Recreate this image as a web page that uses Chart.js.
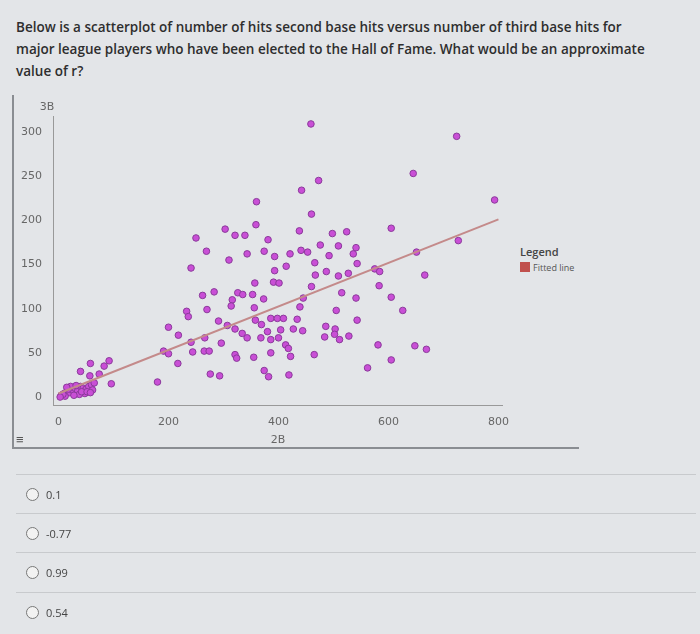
<!DOCTYPE html>
<html><head><meta charset="utf-8">
<script src="https://cdn.jsdelivr.net/npm/chart.js@4"></script>
<style>
body{margin:0;width:700px;height:634px;background:#e3e5e8;font-family:"Open Sans",sans-serif;color:#333;position:relative;overflow:hidden}
#q{position:absolute;left:16px;top:16px;width:684px;font-size:13.5px;font-weight:600;line-height:22px;color:#2e2e2e;white-space:nowrap}
#frame{position:absolute;left:12px;top:95px;width:565px;height:352px;border-left:2px solid #8a8d92;border-bottom:2px solid #8a8d92}
#cw{position:absolute;left:14px;top:95px;width:498px;height:352px}
#menu{position:absolute;left:16px;top:430px;font-size:13px;color:#555}
#leg{position:absolute;left:520px;top:244px;font-size:11px;color:#444;font-weight:600}
#leg div{font-size:9px;font-weight:400;color:#555;margin-top:2px}
#leg i{display:inline-block;width:10px;height:10px;background:#c0504d;margin-right:3px;vertical-align:-1px}
.opt{position:absolute;left:16px;width:680px;height:38px;border-top:1px solid #c8cacd;font-size:11px;color:#444}
.opt span.c{position:absolute;left:10px;top:13px;width:11px;height:11px;border:1px solid #777;border-radius:50%;background:#f2f2f2}
.opt span.t{position:absolute;left:30px;top:12px}
</style></head><body>
<div id="q">Below is a scatterplot of number of hits second base hits versus number of third base hits for<br>major league players who have been elected to the Hall of Fame. What would be an approximate<br>value of r?</div>
<div id="frame"></div>
<div id="cw"><canvas id="c"></canvas></div>
<div id="menu">≡</div>
<div id="leg">Legend<div><i></i>Fitted line</div></div>
<div class="opt" style="top:474px"><span class="c"></span><span class="t">0.1</span></div>
<div class="opt" style="top:513px"><span class="c"></span><span class="t">-0.77</span></div>
<div class="opt" style="top:552px"><span class="c"></span><span class="t">0.99</span></div>
<div class="opt" style="top:592px"><span class="c"></span><span class="t">0.54</span></div>
<script>
const doubles=[459,724,645,473,442,360,793,460,359,605,250,303,321,339,381,438,498,524,727,269,343,374,393,421,441,453,476,492,509,541,536,651,241,310,393,414,466,467,487,509,527,543,575,584,666,357,391,401,460,262,283,326,335,353,515,583,541,605,316,373,445,314,356,439,626,233,236,270,505,291,358,386,398,409,434,543,200,218,307,321,334,343,369,380,404,427,444,486,503,502,528,511,484,266,368,386,400,241,296,413,418,581,648,669,191,244,200,265,274,321,324,355,386,422,465,605,217,562,374,382,276,293,419,180,96,83,92,58,40,57,74,5,10,15,20,25,30,12,8,35,40,45,50,55,60,62,48,38,28,18,22,32,42,52,58,3,65,15];
const triples=[309,295,253,245,234,221,223,207,195,191,180,190,183,183,178,188,185,187,177,165,162,165,159,162,166,164,172,160,171,169,162,164,146,155,143,148,152,138,142,137,140,151,145,142,138,129,130,129,125,115,119,118,116,116,118,126,112,113,110,111,112,103,101,102,98,97,91,99,98,86,87,89,89,89,88,87,79,70,81,77,72,67,82,74,76,77,75,80,77,71,69,65,68,67,67,65,67,62,61,59,55,59,58,54,52,51,49,52,52,48,44,45,50,46,48,42,38,33,30,23,26,24,25,17,15,35,41,38,29,24,26,2,4,6,5,8,10,1,3,7,12,10,9,12,14,8,4,3,2,9,12,13,6,6,5,0,16,11];
const xTicks=[0,200,400,600,800];
const yTicks=[0,50,100,150,200,250,300];
const fitX=[0,800];
const fitY=[4,201];
const pts=doubles.map((x,i)=>({x,y:triples[i]}));
new Chart(document.getElementById('c'),{
 type:'scatter',
 data:{datasets:[
  {label:'Fitted line',type:'line',data:fitX.map((x,i)=>({x,y:fitY[i]})),borderColor:'#c48a8a',borderWidth:2,pointRadius:0,order:0},
  {label:'pts',data:pts,backgroundColor:'#c94fd6',borderColor:'#8a3a9a',borderWidth:1,pointRadius:3.3,order:1}
 ]},
 options:{responsive:true,maintainAspectRatio:false,animation:false,
  layout:{padding:{top:21,right:3,left:0,bottom:0}},
  plugins:{tooltip:{enabled:false},legend:{display:false}},
  scales:{
   x:{type:'linear',min:-10,max:808,grid:{display:false},border:{display:true,color:'#999'},
      afterBuildTicks:s=>{s.ticks=xTicks.map(v=>({value:v}));},
      afterFit:s=>{s.height=42;},
      ticks:{color:'#666',font:{family:'DejaVu Sans',size:11}},
      title:{display:true,text:'2B',color:'#666',padding:0,font:{family:'DejaVu Sans',size:11}}},
   y:{type:'linear',min:-9,max:318,grid:{display:false},border:{display:true,color:'#999'},
      afterBuildTicks:s=>{s.ticks=yTicks.map(v=>({value:v}));},
      afterFit:s=>{s.width=39;},
      ticks:{color:'#666',font:{family:'DejaVu Sans',size:11}}}
  }},
 plugins:[{id:'t3b',afterDraw(ch){const c=ch.ctx,s=ch.scales.y;c.save();c.fillStyle='#666';c.font='11px "DejaVu Sans"';c.textAlign='center';c.fillText('3B',s.right-6,ch.chartArea.top-6);c.restore();}}]
});
</script></body></html>
